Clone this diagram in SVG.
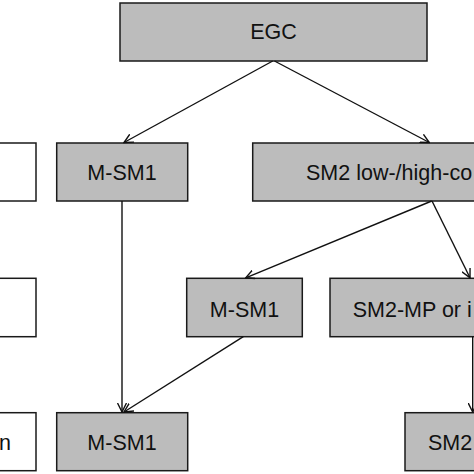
<svg xmlns="http://www.w3.org/2000/svg" width="474" height="474" viewBox="0 0 474 474">
<defs>
<style>
.g rect{fill:#bcbcbc;stroke:#1a1a1a;stroke-width:1.5}
.w rect{fill:#fff;stroke:#1a1a1a;stroke-width:1.5}
text{font-family:"Liberation Sans",Arial,sans-serif;font-size:21.5px;fill:#111}
.c line{stroke:#111;stroke-width:1.4;marker-end:url(#a)}
</style>
<marker id="a" viewBox="0 0 10 10" refX="9" refY="5" markerWidth="10" markerHeight="10" markerUnits="userSpaceOnUse" orient="auto">
<path d="M0,0.5 L9,5 L0,9.5" fill="none" stroke="#111" stroke-width="1.4"/>
</marker>
</defs>
<rect width="474" height="474" fill="#fff"/>
<g id="egc" class="g"><rect x="120" y="3" width="307" height="58"/><text x="273.5" y="38.5" text-anchor="middle">EGC</text></g>
<g id="left1" class="w"><rect x="-5" y="143" width="41" height="58"/></g>
<g id="msm1a" class="g"><rect x="56.7" y="143" width="131" height="58"/><text x="122" y="180" text-anchor="middle">M-SM1</text></g>
<g id="sm2low" class="g"><rect x="252.7" y="143" width="230" height="58"/><text x="306" y="180">SM2 low-/high-co</text></g>
<g id="left2" class="w"><rect x="-5" y="278.3" width="41" height="58.4"/></g>
<g id="msm1b" class="g"><rect x="186.7" y="278.3" width="115.6" height="58.4"/><text x="244.5" y="317.3" text-anchor="middle">M-SM1</text></g>
<g id="sm2mp" class="g"><rect x="330" y="278.3" width="160" height="58.4"/><text x="352.7" y="317.3">SM2-MP or i</text></g>
<g id="left3" class="w"><rect x="-5" y="412.7" width="41" height="58"/><text x="-1" y="450">n</text></g>
<g id="msm1c" class="g"><rect x="56.7" y="412.7" width="131" height="58"/><text x="122" y="450" text-anchor="middle">M-SM1</text></g>
<g id="sm2c" class="g"><rect x="405" y="412.7" width="80" height="58"/><text x="428" y="450">SM2</text></g>
<g id="connectors" class="c">
<line x1="272.7" y1="61" x2="124" y2="142.5"/>
<line x1="274.5" y1="61" x2="429.3" y2="142.5"/>
<line x1="122" y1="201" x2="122" y2="412"/>
<line x1="431.7" y1="201" x2="245.7" y2="277.8"/>
<line x1="432" y1="201" x2="470" y2="277.8"/>
<line x1="243.3" y1="336.7" x2="124" y2="412"/>
<line x1="472.7" y1="336.7" x2="472.7" y2="412"/>
</g>
</svg>
